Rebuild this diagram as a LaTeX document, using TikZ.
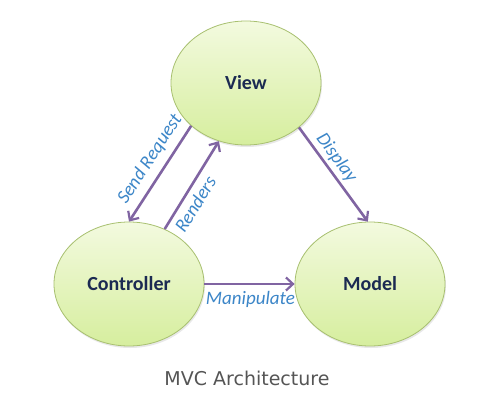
\documentclass[tikz,border=0pt]{standalone}
\usepackage{fontspec}
\setmainfont{Carlito}
\newfontfamily\capfont{DejaVu Sans}
\usetikzlibrary{shapes.geometric,arrows.meta,shadows}
\definecolor{ellborder}{HTML}{A8C070}
\definecolor{elltop}{HTML}{F3FADF}
\definecolor{ellbot}{HTML}{D6EE9E}
\definecolor{navy}{HTML}{1B2A52}
\definecolor{arrowpurple}{HTML}{8064A2}
\definecolor{lblblue}{HTML}{3C86C8}
\definecolor{capgray}{HTML}{555555}
\tikzset{
  mvcnode/.style={ellipse, draw=ellborder, line width=0.8pt, top color=elltop, bottom color=ellbot,
    minimum width=150pt, minimum height=124pt, inner sep=0pt,
    font=\fontsize{20}{24}\selectfont\bfseries, text=navy,
    drop shadow={opacity=0.18, shadow xshift=1pt, shadow yshift=-2pt}},
  flow/.style={draw=arrowpurple, line width=2.6pt, -{Straight Barb[length=7pt,width=13pt,line width=2.2pt]}},
  flowlbl/.style={font=\fontsize{19}{21}\selectfont\itshape, text=lblblue, inner sep=1pt, sloped}
}
\begin{document}
\begin{tikzpicture}[x=1pt,y=-1pt]
\useasboundingbox[fill=white] (0,0) rectangle (493,404);
\node[mvcnode] (view) at (246,83) {View};
\node[mvcnode] (ctrl) at (129,284) {Controller};
\node[mvcnode] (model) at (370,284) {Model};
\draw[flow] (view.218.7) -- (ctrl.north)
  node[flowlbl, pos=0.44, above=6pt] {Send Request};
\draw[flow] (ctrl.57) -- (view.245.4)
  node[flowlbl, pos=0.36, below=4pt] {Renders};
\draw[flow] (view.320.8) -- (model.92)
  node[flowlbl, pos=0.40, above=2pt] {Display};
\draw[flow] (ctrl.east) -- (model.west)
  node[flowlbl, pos=0.51, below=5pt] {Manipulate};
\node[font=\capfont\fontsize{19}{22}\selectfont, text=capgray] (cap) at (247,378) {MVC Architecture};
\end{tikzpicture}
\end{document}
